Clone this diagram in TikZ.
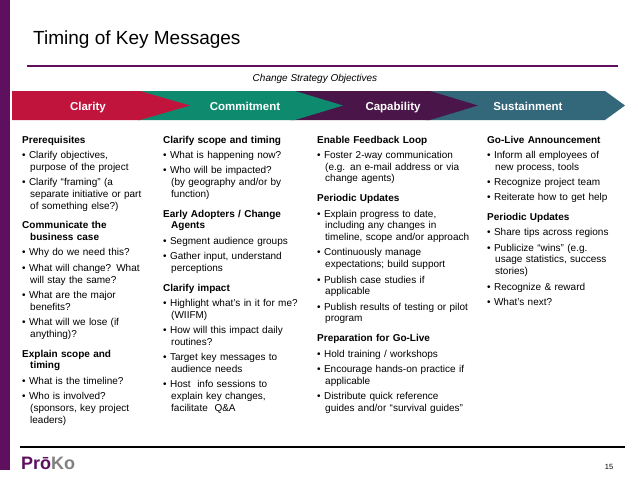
\documentclass[tikz,border=0pt]{standalone}
\usepackage{fontspec}
\setmainfont{Liberation Sans}
\definecolor{pk}{HTML}{5E0F5E}
\definecolor{cred}{HTML}{C0143C}
\definecolor{cteal}{HTML}{0E8A6E}
\definecolor{cpur}{HTML}{4A1548}
\definecolor{cblue}{HTML}{33677A}
\newcommand{\colfont}{\fontsize{10pt}{11.8pt}\selectfont\hyphenpenalty=10000 \exhyphenpenalty=10000 }
\newcommand{\hd}[1]{\par\addvspace{8pt}\noindent\textbf{#1}\par}
\newcommand{\itm}[1]{\par\addvspace{3.5pt}\hangindent=8pt\hangafter=1\noindent\textbullet\ #1\par}
\tikzset{col/.style={anchor=north west,align=left,inner sep=0pt,font=\colfont},
chev/.style={font=\bfseries\fontsize{11.5pt}{13pt}\selectfont,text=white,anchor=base}}
\begin{document}
\begin{tikzpicture}[x=1pt,y=-1pt]
\useasboundingbox (0,0) rectangle (638,493);
\fill[pk] (0,0) rectangle (10,470);
\node[anchor=west,font=\fontsize{19pt}{22pt}\selectfont,inner sep=0pt] (title) at (33,40) {Timing of Key Messages};
\draw[pk,line width=2.5pt] (27,66) -- (618,66);
\node[font=\itshape\fontsize{10pt}{12pt}\selectfont] (cso) at (315,79) {Change Strategy Objectives};
\fill[cblue] (425,91) -- (605,91) -- (625,105.5) -- (605,120) -- (425,120) -- cycle;
\fill[cpur] (290,91) -- (430,91) -- (478,105.5) -- (430,120) -- (290,120) -- cycle;
\fill[cteal] (138,91) -- (295,91) -- (343,105.5) -- (295,120) -- (138,120) -- cycle;
\fill[cred] (12,91) -- (140,91) -- (190,105.5) -- (140,120) -- (12,120) -- cycle;
\node[chev] (c1) at (88,110) {Clarity};
\node[chev] (c2) at (245,110) {Commitment};
\node[chev] (c3) at (393,110) {Capability};
\node[chev] (c4) at (528,110) {Sustainment};
\node[col,text width=120pt] (k1) at (22,123) {%
\hd{Prerequisites}
\itm{Clarify objectives, purpose of the project}
\itm{Clarify “framing” (a separate initiative or part of something else?)}
\hd{Communicate the\\\hspace*{8pt}business case}
\itm{Why do we need this?}
\itm{What will change? What will stay the same?}
\itm{What are the major benefits?}
\itm{What will we lose (if anything)?}
\hd{Explain scope and\\\hspace*{8pt}timing}
\itm{What is the timeline?}
\itm{Who is involved? (sponsors, key project leaders)}};
\node[col,text width=138pt] (k2) at (163,123) {%
\hd{Clarify scope and timing}
\itm{What is happening now?}
\itm{Who will be impacted? (by geography and/or by function)}
\hd{Early Adopters / Change\\\hspace*{8pt}Agents}
\itm{Segment audience groups}
\itm{Gather input, understand perceptions}
\hd{Clarify impact}
\itm{Highlight what’s in it for me? (WIIFM)}
\itm{How will this impact daily routines?}
\itm{Target key messages to audience needs}
\itm{Host\ \ info sessions to explain key changes, facilitate\ \ Q\&A}};
\node[col,text width=154pt] (k3) at (317,123) {%
\hd{Enable Feedback Loop}
\itm{Foster 2-way communication (e.g. an e-mail address or via change agents)}
\hd{Periodic Updates}
\itm{Explain progress to date, including any changes in timeline, scope and/or approach}
\itm{Continuously manage expectations; build support}
\itm{Publish case studies if applicable}
\itm{Publish results of testing or pilot program}
\hd{Preparation for Go-Live}
\itm{Hold training / workshops}
\itm{Encourage hands-on practice if applicable}
\itm{Distribute quick reference guides and/or “survival guides”}};
\node[col,text width=132pt] (k4) at (487,123) {%
\hd{Go-Live Announcement}
\itm{Inform all employees of new process, tools}
\itm{Recognize project team}
\itm{Reiterate how to get help}
\hd{Periodic Updates}
\itm{Share tips across regions}
\itm{Publicize “wins” (e.g. usage statistics, success stories)}
\itm{Recognize \& reward}
\itm{What’s next?}};
\draw[line width=1.5pt] (20,447) -- (625,447);
\node[anchor=west,inner sep=0pt,font=\bfseries\fontsize{18pt}{20pt}\selectfont] (logo) at (21,463) {\textcolor{pk}{Prō}\textcolor{gray}{Ko}};
\node[font=\fontsize{7.5pt}{8pt}\selectfont] (pg) at (609,467) {15};
\end{tikzpicture}
\end{document}
